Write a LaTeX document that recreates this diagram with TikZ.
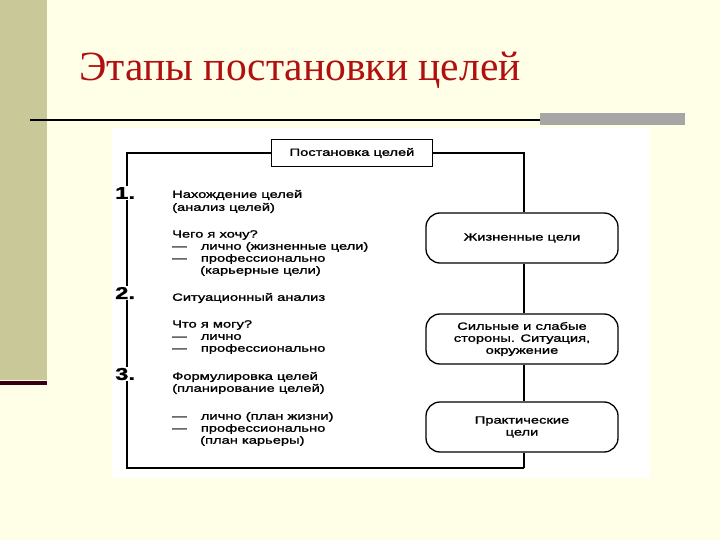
\documentclass[tikz,border=0pt]{standalone}
\usepackage{fontspec}
\setmainfont{Liberation Sans}
\newfontfamily\titlefont{Liberation Serif}
\newfontfamily\diafont[FakeStretch=1.4,FakeBold=1.5]{Liberation Sans}
\usetikzlibrary{positioning}
\definecolor{slidebg}{HTML}{FFFFE8}
\definecolor{bandcol}{HTML}{C8C898}
\definecolor{titlered}{HTML}{B01010}
\tikzset{
  txt/.style={anchor=west,inner sep=0pt,font=\diafont\fontsize{10.5}{12}\selectfont},
  num/.style={font=\diafont\bfseries\fontsize{17}{17}\selectfont,inner sep=1pt},
  goalbox/.style={draw,line width=1.3pt,rounded corners=14pt,minimum width=192pt,minimum height=50pt,align=center,font=\diafont\fontsize{10.5}{12}\selectfont,fill=white},
  frame/.style={line width=1.3pt}
}
\begin{document}
\begin{tikzpicture}[x=1pt,y=-1pt]
\useasboundingbox (0,0) rectangle (720,540);
\fill[slidebg] (0,0) rectangle (720,540);
\fill[bandcol] (0,0) rectangle (47,380);
\fill[black!70!purple] (0,381) rectangle (47,385);
\node[anchor=west,text=titlered,font=\titlefont\fontsize{41.5}{42}\selectfont] (title) at (76,70) {Этапы постановки целей};
\draw[line width=1.3pt] (30,120) -- (540,120);
\fill[gray!70] (540,113) rectangle (685,125);
\fill[white] (112,128) rectangle (650,478);
% header and stages
\node[draw,line width=1.3pt,minimum width=161pt,minimum height=27pt,font=\diafont\fontsize{10.5}{12}\selectfont] (head) at (352,153) {Постановка целей};
\node[num,anchor=west] (n1) at (114,193) {1.};
\node[num,anchor=west] (n2) at (114,293) {2.};
\node[num,anchor=west] (n3) at (114,374) {3.};
\coordinate (tl) at (127,153);
\coordinate (bl) at (127,468);
\coordinate (tr) at (524,153);
\coordinate (br) at (524,468);
\draw[frame] (head.west) -- (tl) -- (n1.north -| tl);
\draw[frame] (n1.south -| tl) -- (n2.north -| tl);
\draw[frame] (n2.south -| tl) -- (n3.north -| tl);
\draw[frame] (n3.south -| tl) -- (bl) -- (br);
% goal boxes
\node[goalbox] (life) at (522,238) {Жизненные цели};
\node[goalbox] (side) at (522,339) {Сильные и слабые\\стороны. Ситуация,\\окружение};
\node[goalbox] (prac) at (522,427) {Практические\\цели};
\draw[frame] (head.east) -- (tr) -- (tr |- life.north);
\draw[frame] (tr |- life.south) -- (tr |- side.north);
\draw[frame] (tr |- side.south) -- (tr |- prac.north);
\draw[frame] (tr |- prac.south) -- (br);
% texts
\node[txt] (a1) at (172,195) {Нахождение целей};
\node[txt] (a2) at (172,208) {(анализ целей)};
\node[txt] (a3) at (172,235) {Чего я хочу?};
\node[txt] (a4) at (172,247) {—\hspace{14pt}лично (жизненные цели)};
\node[txt] (a5) at (172,259) {—\hspace{14pt}профессионально};
\node[txt] (a6) at (200,271) {(карьерные цели)};
\node[txt] (b1) at (172,298) {Ситуационный анализ};
\node[txt] (b2) at (172,325) {Что я могу?};
\node[txt] (b3) at (172,337) {—\hspace{14pt}лично};
\node[txt] (b4) at (172,349) {—\hspace{14pt}профессионально};
\node[txt] (c1) at (172,377) {Формулировка целей};
\node[txt] (c2) at (172,389) {(планирование целей)};
\node[txt] (c3) at (172,417) {—\hspace{14pt}лично (план жизни)};
\node[txt] (c4) at (172,429) {—\hspace{14pt}профессионально};
\node[txt] (c5) at (200,441) {(план карьеры)};
\end{tikzpicture}
\end{document}
